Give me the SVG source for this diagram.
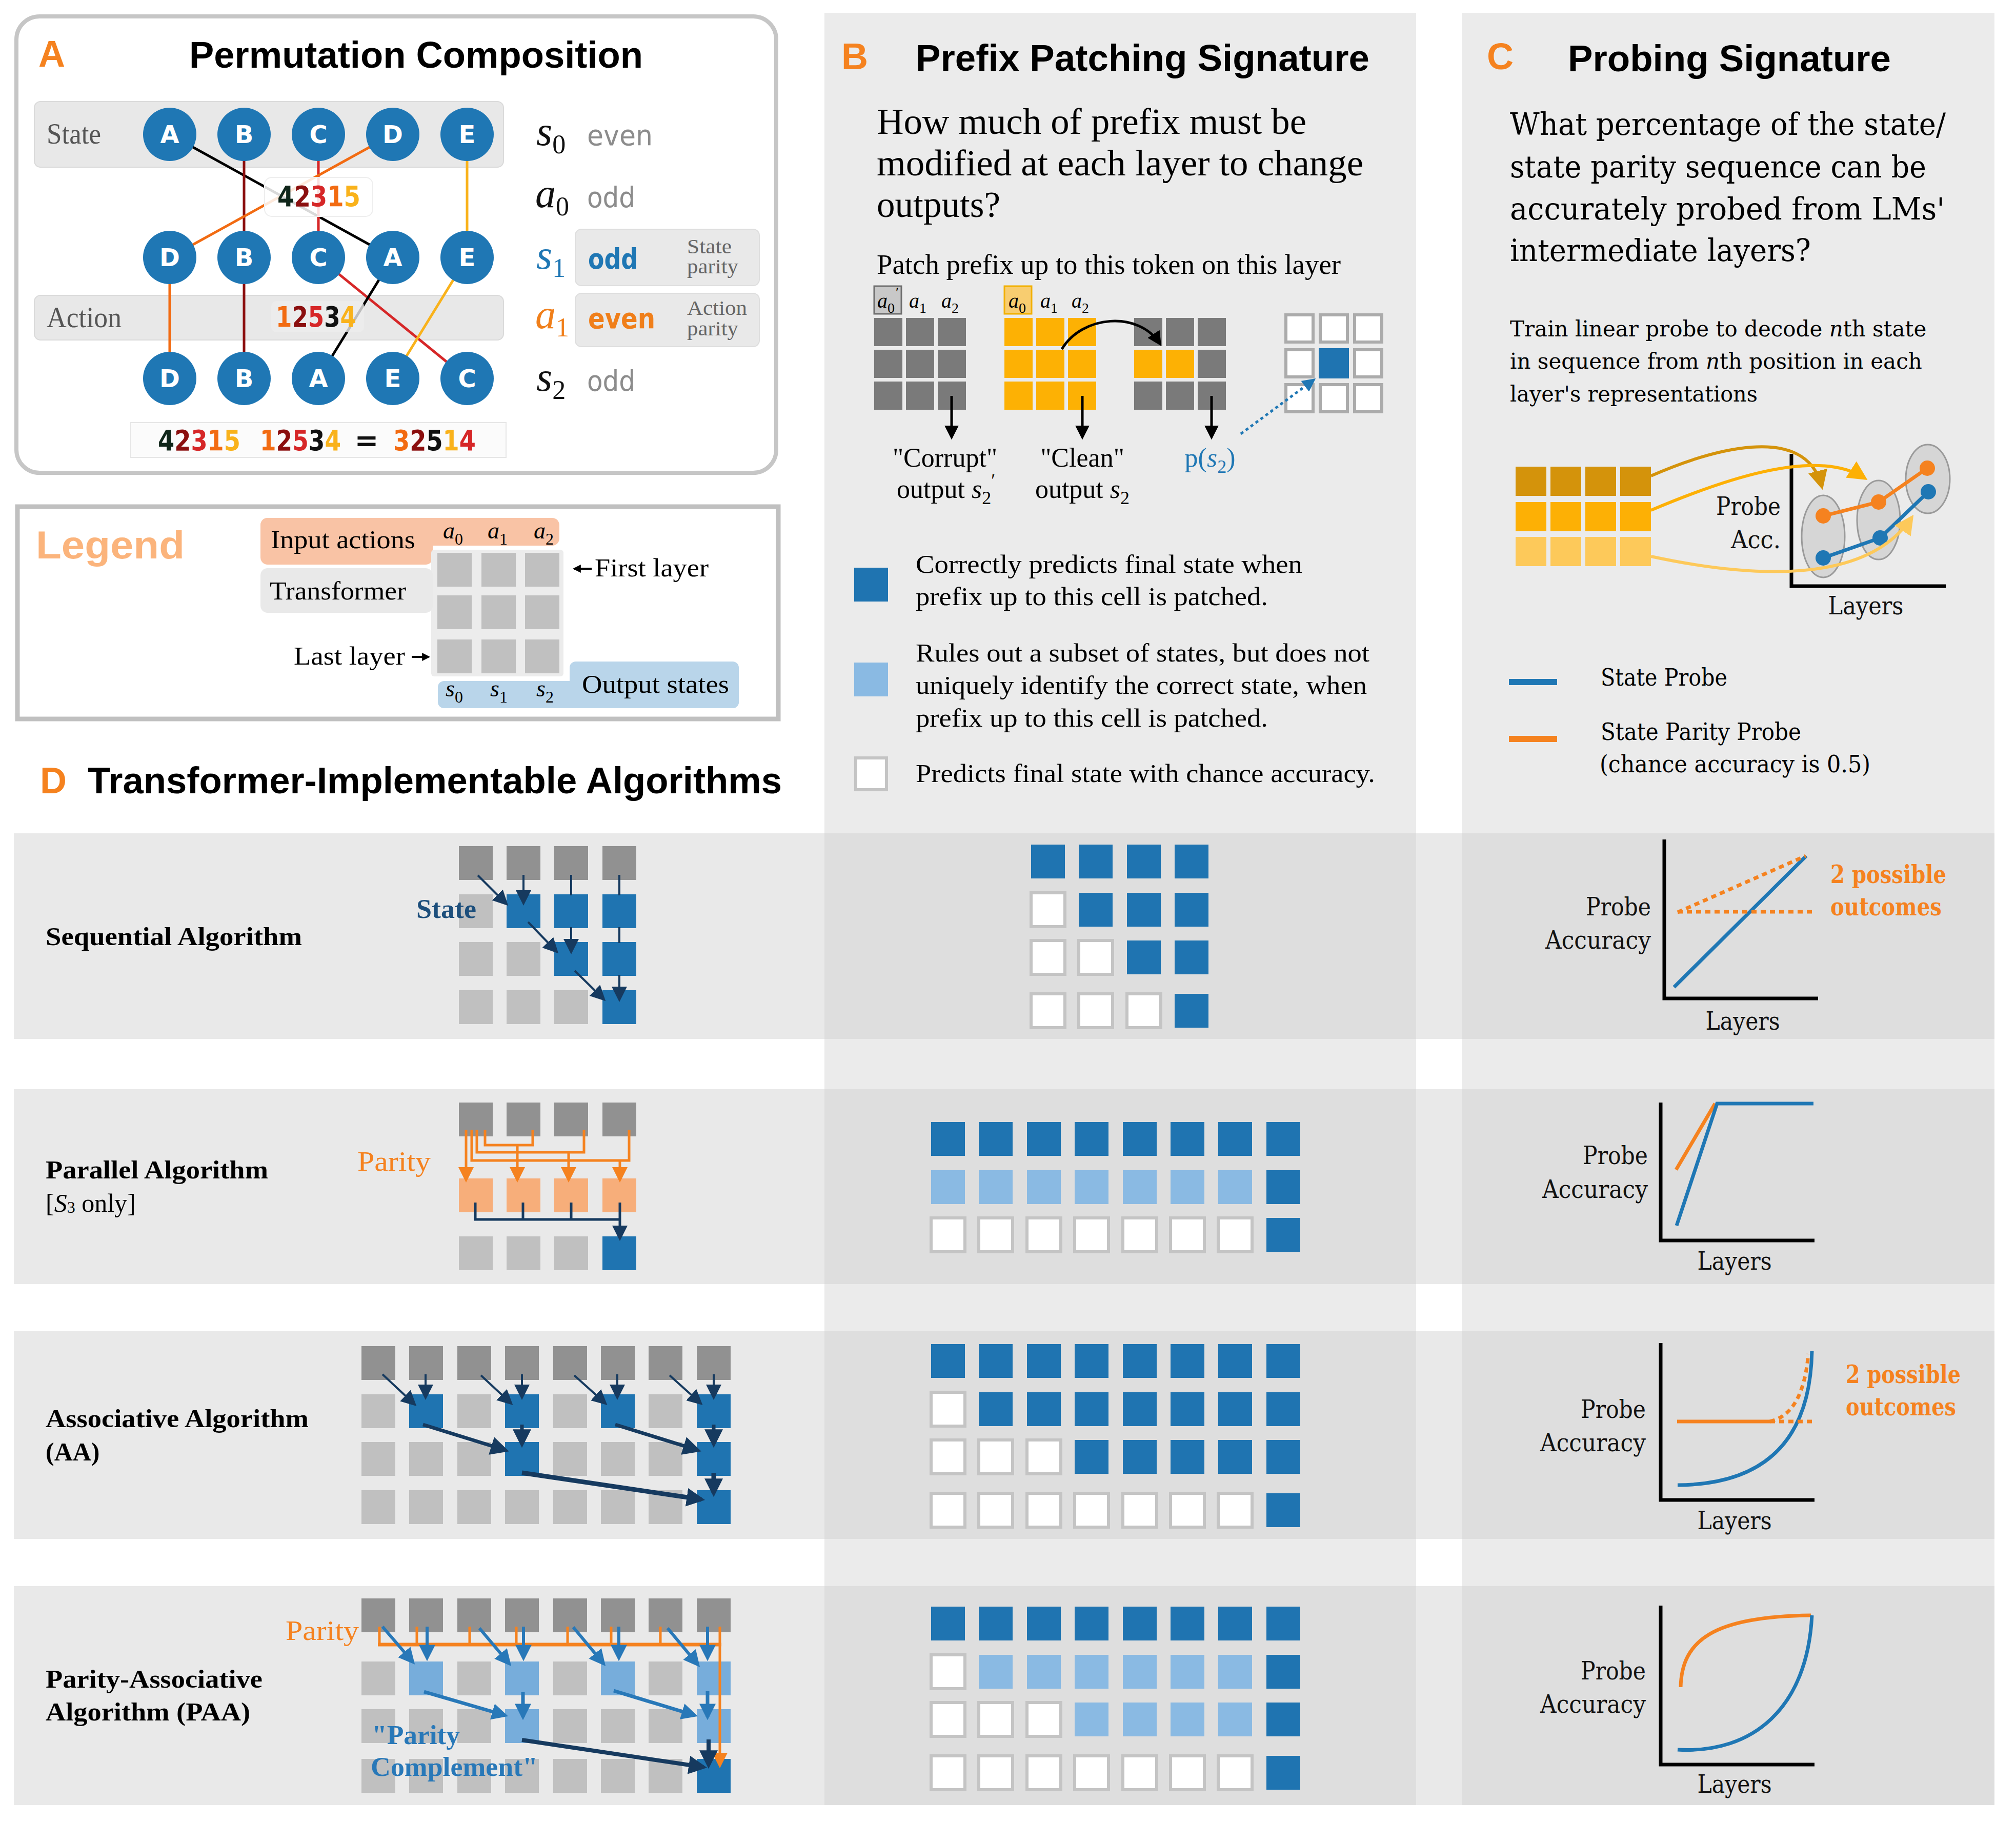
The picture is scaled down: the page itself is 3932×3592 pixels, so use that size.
<svg xmlns="http://www.w3.org/2000/svg" width="3932" height="3592" viewBox="0 0 3932 3592">
<defs>
<style>
.se{font-family:"Liberation Serif","Times New Roman",serif}
.sa{font-family:"Liberation Sans",Arial,sans-serif}
.dv{font-family:"DejaVu Sans",sans-serif}
.cs{font-family:"DejaVu Serif",serif}
.it{font-style:italic}
.bd{font-weight:bold}
.dg{fill:#919191}
.lg{fill:#c0c0c0}
.bl{fill:#1f74b1}
.lb{fill:#8abae3}
.mb{fill:#77addb}
.sm{fill:#f7ae7a}
.wh{fill:#fff;stroke:#c4c4c4;stroke-width:6}
.pg{fill:#7a7a7a}
.py{fill:#fdb104}
.ol{fill:#fff;stroke:#ababab;stroke-width:6}
.circ{fill:#1f77b4}
.cl{font-family:"DejaVu Sans",sans-serif;font-weight:bold;font-size:48px;fill:#fff;text-anchor:middle}
.nv{fill:none;stroke:#163a5f}
.bu{fill:none;stroke:#2878b8}
.or{fill:none;stroke:#f5821f;stroke-width:5}
.ax{fill:none;stroke:#000;stroke-width:7}
.plab{font-family:"DejaVu Serif",serif;font-size:48px;fill:#111}
.rowlab{font-family:"Liberation Serif","Times New Roman",serif;font-weight:bold;font-size:50px;fill:#000}
.letter{font-family:"Liberation Sans",Arial,sans-serif;font-weight:900;font-size:72px;fill:#f5821f}
.title{font-family:"Liberation Sans",Arial,sans-serif;font-weight:bold;font-size:72px;fill:#000}
</style>
<marker id="mk" viewBox="0 0 10 10" refX="8" refY="5" markerUnits="userSpaceOnUse" markerWidth="28" markerHeight="28" orient="auto"><path d="M0,0 L10,5 L0,10 z" fill="#000"/></marker>
<marker id="mks" viewBox="0 0 10 10" refX="8" refY="5" markerUnits="userSpaceOnUse" markerWidth="16" markerHeight="16" orient="auto"><path d="M0,0 L10,5 L0,10 z" fill="#000"/></marker>
<marker id="mnv" viewBox="0 0 10 10" refX="8" refY="5" markerUnits="userSpaceOnUse" markerWidth="30" markerHeight="30" orient="auto"><path d="M0,0 L10,5 L0,10 z" fill="#163a5f"/></marker>
<marker id="mnv2" viewBox="0 0 10 10" refX="8" refY="5" markerUnits="userSpaceOnUse" markerWidth="36" markerHeight="36" orient="auto"><path d="M0,0 L10,5 L0,10 z" fill="#163a5f"/></marker>
<marker id="mbu" viewBox="0 0 10 10" refX="8" refY="5" markerUnits="userSpaceOnUse" markerWidth="32" markerHeight="32" orient="auto"><path d="M0,0 L10,5 L0,10 z" fill="#2878b8"/></marker>
<marker id="mbd" viewBox="0 0 10 10" refX="8" refY="5" markerUnits="userSpaceOnUse" markerWidth="26" markerHeight="26" orient="auto"><path d="M0,0 L10,5 L0,10 z" fill="#1f77b4"/></marker>
<marker id="mor" viewBox="0 0 10 10" refX="8" refY="5" markerUnits="userSpaceOnUse" markerWidth="30" markerHeight="30" orient="auto"><path d="M0,0 L10,5 L0,10 z" fill="#f5821f"/></marker>
<marker id="mgd" viewBox="0 0 10 10" refX="8" refY="5" markerUnits="userSpaceOnUse" markerWidth="38" markerHeight="38" orient="auto"><path d="M0,0 L10,5 L0,10 z" fill="#d4930b"/></marker>
<marker id="mye" viewBox="0 0 10 10" refX="8" refY="5" markerUnits="userSpaceOnUse" markerWidth="38" markerHeight="38" orient="auto"><path d="M0,0 L10,5 L0,10 z" fill="#fdb005"/></marker>
<marker id="mly" viewBox="0 0 10 10" refX="8" refY="5" markerUnits="userSpaceOnUse" markerWidth="38" markerHeight="38" orient="auto"><path d="M0,0 L10,5 L0,10 z" fill="#fdc95a"/></marker>
</defs>

<rect x="0" y="0" width="3932" height="3592" fill="#fff"/>

<!-- panel backgrounds -->
<g id="backgrounds">
<rect x="1608" y="25" width="1154" height="3495" fill="#ebebeb"/>
<rect x="2851" y="25" width="1039" height="3495" fill="#ebebeb"/>
<rect x="27" y="1625" width="3863" height="401" fill="#e9e9e9"/>
<rect x="27" y="2124" width="3863" height="380" fill="#e9e9e9"/>
<rect x="27" y="2596" width="3863" height="405" fill="#e9e9e9"/>
<rect x="27" y="3093" width="3863" height="427" fill="#e9e9e9"/>
<rect x="1608" y="1625" width="1154" height="401" fill="#dedede"/>
<rect x="2851" y="1625" width="1039" height="401" fill="#dedede"/>
<rect x="1608" y="2124" width="1154" height="380" fill="#dedede"/>
<rect x="2851" y="2124" width="1039" height="380" fill="#dedede"/>
<rect x="1608" y="2596" width="1154" height="405" fill="#dedede"/>
<rect x="2851" y="2596" width="1039" height="405" fill="#dedede"/>
<rect x="1608" y="3093" width="1154" height="427" fill="#dedede"/>
<rect x="2851" y="3093" width="1039" height="427" fill="#dedede"/>
</g>

<!-- ============ PANEL A ============ -->
<g id="panelA">
<rect x="32" y="32" width="1482" height="890" rx="45" fill="#fff" stroke="#c6c6c6" stroke-width="8"/>
<text class="letter" x="75" y="130">A</text>
<text class="title" x="369" y="132" textLength="885" lengthAdjust="spacingAndGlyphs">Permutation Composition</text>
<rect x="67" y="198" width="915" height="128" rx="12" fill="#e8e8e8" stroke="#dadada" stroke-width="2"/>
<text class="se" x="91" y="280" font-size="56" fill="#555" textLength="106" lengthAdjust="spacingAndGlyphs">State</text>
<rect x="67" y="576" width="915" height="87" rx="12" fill="#e8e8e8" stroke="#dadada" stroke-width="2"/>
<text class="se" x="91" y="638" font-size="56" fill="#555" textLength="146" lengthAdjust="spacingAndGlyphs">Action</text>
</g>

<g id="permutation-connectors" stroke-width="5" fill="none">
<line x1="331" y1="262" x2="766" y2="502" stroke="#000"/>
<line x1="476" y1="262" x2="476" y2="502" stroke="#8b0f0f"/>
<line x1="621" y1="262" x2="621" y2="502" stroke="#d62728"/>
<line x1="766" y1="262" x2="331" y2="502" stroke="#f26b12"/>
<line x1="911" y1="262" x2="911" y2="502" stroke="#f9b21b"/>
<line x1="331" y1="502" x2="331" y2="738" stroke="#f26b12"/>
<line x1="476" y1="502" x2="476" y2="738" stroke="#8b0f0f"/>
<line x1="621" y1="502" x2="911" y2="738" stroke="#d62728"/>
<line x1="766" y1="502" x2="621" y2="738" stroke="#000"/>
<line x1="911" y1="502" x2="766" y2="738" stroke="#f9b21b"/>
</g>

<g id="perm-boxes">
<rect x="516" y="346" width="211" height="76" rx="14" fill="#fff" fill-opacity="0.85" stroke="#eeeeee" stroke-width="2"/>
<text class="dv bd" x="541" y="402" font-size="56" textLength="162" lengthAdjust="spacingAndGlyphs"><tspan fill="#10261a">4</tspan><tspan fill="#8b0f0f">2</tspan><tspan fill="#d62728">3</tspan><tspan fill="#f26b12">1</tspan><tspan fill="#f9b21b">5</tspan></text>
<rect x="529" y="587" width="181" height="61" rx="10" fill="#ececec" fill-opacity="0.8"/>
<text class="dv bd" x="538" y="637" font-size="56" textLength="157" lengthAdjust="spacingAndGlyphs"><tspan fill="#f26b12">1</tspan><tspan fill="#8b0f0f">2</tspan><tspan fill="#d62728">5</tspan><tspan fill="#111">3</tspan><tspan fill="#f9b21b">4</tspan></text>
</g>

<g id="state-s0">
<circle class="circ" cx="331" cy="262" r="52"/><text class="cl" x="331" y="279">A</text>
<circle class="circ" cx="476" cy="262" r="52"/><text class="cl" x="476" y="279">B</text>
<circle class="circ" cx="621" cy="262" r="52"/><text class="cl" x="621" y="279">C</text>
<circle class="circ" cx="766" cy="262" r="52"/><text class="cl" x="766" y="279">D</text>
<circle class="circ" cx="911" cy="262" r="52"/><text class="cl" x="911" y="279">E</text>
</g>
<g id="state-s1">
<circle class="circ" cx="331" cy="502" r="52"/><text class="cl" x="331" y="519">D</text>
<circle class="circ" cx="476" cy="502" r="52"/><text class="cl" x="476" y="519">B</text>
<circle class="circ" cx="621" cy="502" r="52"/><text class="cl" x="621" y="519">C</text>
<circle class="circ" cx="766" cy="502" r="52"/><text class="cl" x="766" y="519">A</text>
<circle class="circ" cx="911" cy="502" r="52"/><text class="cl" x="911" y="519">E</text>
</g>
<g id="state-s2">
<circle class="circ" cx="331" cy="738" r="52"/><text class="cl" x="331" y="755">D</text>
<circle class="circ" cx="476" cy="738" r="52"/><text class="cl" x="476" y="755">B</text>
<circle class="circ" cx="621" cy="738" r="52"/><text class="cl" x="621" y="755">A</text>
<circle class="circ" cx="766" cy="738" r="52"/><text class="cl" x="766" y="755">E</text>
<circle class="circ" cx="911" cy="738" r="52"/><text class="cl" x="911" y="755">C</text>
</g>

<g id="equation">
<rect x="255" y="824" width="732" height="68" fill="#fbfbfb" stroke="#e6e6e6" stroke-width="2"/>
<text class="dv bd" x="308" y="878" font-size="56" textLength="161" lengthAdjust="spacingAndGlyphs"><tspan fill="#10261a">4</tspan><tspan fill="#8b0f0f">2</tspan><tspan fill="#d62728">3</tspan><tspan fill="#f26b12">1</tspan><tspan fill="#f9b21b">5</tspan></text>
<text class="dv bd" x="507" y="878" font-size="56" textLength="158" lengthAdjust="spacingAndGlyphs"><tspan fill="#f26b12">1</tspan><tspan fill="#8b0f0f">2</tspan><tspan fill="#d62728">5</tspan><tspan fill="#111">3</tspan><tspan fill="#f9b21b">4</tspan></text>
<text class="dv bd" x="715" y="878" font-size="56" fill="#111" text-anchor="middle">=</text>
<text class="dv bd" x="767" y="878" font-size="56" textLength="161" lengthAdjust="spacingAndGlyphs"><tspan fill="#f26b12">3</tspan><tspan fill="#8b0f0f">2</tspan><tspan fill="#111">5</tspan><tspan fill="#f9b21b">1</tspan><tspan fill="#d62728">4</tspan></text>
</g>

<g id="parity-column">
<rect x="1122" y="447" width="359" height="110" rx="12" fill="#e9e9e9" stroke="#dedede" stroke-width="2"/>
<rect x="1122" y="572" width="359" height="104" rx="12" fill="#e9e9e9" stroke="#dedede" stroke-width="2"/>
<text class="se it" x="1046" y="283" font-size="80" fill="#111">s<tspan font-style="normal" font-size="52" dy="16">0</tspan></text>
<text class="se it" x="1044" y="404" font-size="80" fill="#111">a<tspan font-style="normal" font-size="52" dy="16">0</tspan></text>
<text class="se it" x="1046" y="524" font-size="80" fill="#1f77b4">s<tspan font-style="normal" font-size="52" dy="16">1</tspan></text>
<text class="se it" x="1044" y="640" font-size="80" fill="#f07f1a">a<tspan font-style="normal" font-size="52" dy="16">1</tspan></text>
<text class="se it" x="1046" y="762" font-size="80" fill="#111">s<tspan font-style="normal" font-size="52" dy="16">2</tspan></text>
<text class="dv" x="1145" y="283" font-size="56" fill="#8c8c8c" textLength="128" lengthAdjust="spacingAndGlyphs">even</text>
<text class="dv" x="1145" y="404" font-size="56" fill="#8c8c8c" textLength="94" lengthAdjust="spacingAndGlyphs">odd</text>
<text class="dv bd" x="1147" y="524" font-size="56" fill="#1f77b4" textLength="97" lengthAdjust="spacingAndGlyphs">odd</text>
<text class="dv bd" x="1147" y="640" font-size="56" fill="#f07f1a" textLength="131" lengthAdjust="spacingAndGlyphs">even</text>
<text class="dv" x="1145" y="762" font-size="56" fill="#8c8c8c" textLength="94" lengthAdjust="spacingAndGlyphs">odd</text>
<text class="se" x="1340" y="494" font-size="40" fill="#666" textLength="87" lengthAdjust="spacingAndGlyphs">State</text>
<text class="se" x="1340" y="533" font-size="40" fill="#666" textLength="100" lengthAdjust="spacingAndGlyphs">parity</text>
<text class="se" x="1340" y="614" font-size="40" fill="#666" textLength="117" lengthAdjust="spacingAndGlyphs">Action</text>
<text class="se" x="1340" y="654" font-size="40" fill="#666" textLength="100" lengthAdjust="spacingAndGlyphs">parity</text>
</g>

<!-- ============ LEGEND ============ -->
<g id="legend">
<rect x="34" y="988" width="1484" height="414" fill="#fff" stroke="#c0c0c0" stroke-width="9"/>
<text class="sa bd" x="70" y="1089" font-size="76" fill="#fbb47c" textLength="290" lengthAdjust="spacingAndGlyphs">Legend</text>
<rect x="508" y="1010" width="336" height="91" rx="14" fill="#f9c3a5"/>
<rect x="508" y="1010" width="583" height="54" rx="14" fill="#f9c3a5"/>
<rect x="841" y="1072" width="258" height="247" rx="6" fill="#ececec"/>
<rect x="508" y="1108" width="336" height="87" rx="14" fill="#e9e9e9"/>
<rect x="854" y="1328" width="587" height="53" rx="12" fill="#b9d5ea"/>
<rect x="1111" y="1290" width="330" height="91" rx="12" fill="#b9d5ea"/>
<g class="lg">
<rect x="853" y="1078" width="67" height="66"/><rect x="939" y="1078" width="67" height="66"/><rect x="1024" y="1078" width="67" height="66"/>
<rect x="853" y="1161" width="67" height="66"/><rect x="939" y="1161" width="67" height="66"/><rect x="1024" y="1161" width="67" height="66"/>
<rect x="853" y="1247" width="67" height="66"/><rect x="939" y="1247" width="67" height="66"/><rect x="1024" y="1247" width="67" height="66"/>
</g>
<text class="se" x="528" y="1069" font-size="50" fill="#000" textLength="282" lengthAdjust="spacingAndGlyphs">Input actions</text>
<text class="se" x="526" y="1169" font-size="50" fill="#000" textLength="266" lengthAdjust="spacingAndGlyphs">Transformer</text>
<text class="se" x="1160" y="1124" font-size="50" fill="#000" textLength="222" lengthAdjust="spacingAndGlyphs">First layer</text>
<text class="se" x="790" y="1296" font-size="50" fill="#000" text-anchor="end" textLength="217" lengthAdjust="spacingAndGlyphs">Last layer</text>
<text class="se" x="1135" y="1351" font-size="50" fill="#000" textLength="287" lengthAdjust="spacingAndGlyphs">Output states</text>
<text class="se it" x="864" y="1050" font-size="46">a<tspan font-style="normal" font-size="32" dy="12">0</tspan></text>
<text class="se it" x="951" y="1050" font-size="46">a<tspan font-style="normal" font-size="32" dy="12">1</tspan></text>
<text class="se it" x="1041" y="1050" font-size="46">a<tspan font-style="normal" font-size="32" dy="12">2</tspan></text>
<text class="se it" x="869" y="1358" font-size="46">s<tspan font-style="normal" font-size="32" dy="12">0</tspan></text>
<text class="se it" x="956" y="1358" font-size="46">s<tspan font-style="normal" font-size="32" dy="12">1</tspan></text>
<text class="se it" x="1046" y="1358" font-size="46">s<tspan font-style="normal" font-size="32" dy="12">2</tspan></text>
<line x1="1154" y1="1109" x2="1120" y2="1109" stroke="#000" stroke-width="4" marker-end="url(#mks)"/>
<line x1="803" y1="1281" x2="836" y2="1281" stroke="#000" stroke-width="4" marker-end="url(#mks)"/>
</g>

<!-- ============ PANEL B ============ -->
<g id="panelB-header">
<text class="letter" x="1641" y="135">B</text>
<text class="title" x="1786" y="138" textLength="885" lengthAdjust="spacingAndGlyphs">Prefix Patching Signature</text>
<text class="se" x="1710" y="261" font-size="72" fill="#000" textLength="838" lengthAdjust="spacingAndGlyphs">How much of prefix must be</text>
<text class="se" x="1710" y="342" font-size="72" fill="#000" textLength="949" lengthAdjust="spacingAndGlyphs">modified at each layer to change</text>
<text class="se" x="1710" y="423" font-size="72" fill="#000" textLength="241" lengthAdjust="spacingAndGlyphs">outputs?</text>
<text class="se" x="1710" y="534" font-size="54" fill="#000" textLength="905" lengthAdjust="spacingAndGlyphs">Patch prefix up to this token on this layer</text>
</g>

<g id="patch-grid-corrupt">
<rect x="1705" y="558" width="53" height="54" fill="#c8c8c8" stroke="#6f6f6f" stroke-width="3"/>
<text class="se it" x="1711" y="600" font-size="40">a<tspan font-style="normal" font-size="28" dy="10">0</tspan><tspan font-size="30" dy="-30">′</tspan></text>
<text class="se it" x="1773" y="600" font-size="40">a<tspan font-style="normal" font-size="28" dy="10">1</tspan></text>
<text class="se it" x="1836" y="600" font-size="40">a<tspan font-style="normal" font-size="28" dy="10">2</tspan></text>
<g class="pg">
<rect x="1705" y="620" width="55" height="55"/><rect x="1767" y="620" width="55" height="55"/><rect x="1829" y="620" width="55" height="55"/>
<rect x="1705" y="682" width="55" height="55"/><rect x="1767" y="682" width="55" height="55"/><rect x="1829" y="682" width="55" height="55"/>
<rect x="1705" y="744" width="55" height="55"/><rect x="1767" y="744" width="55" height="55"/><rect x="1829" y="744" width="55" height="55"/>
</g>
</g>
<g id="patch-grid-clean">
<rect x="1959" y="558" width="53" height="54" fill="#f8cd70" stroke="#f2b000" stroke-width="3"/>
<text class="se it" x="1967" y="600" font-size="40">a<tspan font-style="normal" font-size="28" dy="10">0</tspan></text>
<text class="se it" x="2029" y="600" font-size="40">a<tspan font-style="normal" font-size="28" dy="10">1</tspan></text>
<text class="se it" x="2090" y="600" font-size="40">a<tspan font-style="normal" font-size="28" dy="10">2</tspan></text>
<g class="py">
<rect x="1959" y="620" width="55" height="55"/><rect x="2021" y="620" width="55" height="55"/><rect x="2083" y="620" width="55" height="55"/>
<rect x="1959" y="682" width="55" height="55"/><rect x="2021" y="682" width="55" height="55"/><rect x="2083" y="682" width="55" height="55"/>
<rect x="1959" y="744" width="55" height="55"/><rect x="2021" y="744" width="55" height="55"/><rect x="2083" y="744" width="55" height="55"/>
</g>
</g>
<g id="patch-grid-patched">
<rect class="pg" x="2212" y="620" width="55" height="55"/><rect class="pg" x="2274" y="620" width="55" height="55"/><rect class="pg" x="2336" y="620" width="55" height="55"/>
<rect class="py" x="2212" y="682" width="55" height="55"/><rect class="py" x="2274" y="682" width="55" height="55"/><rect class="pg" x="2336" y="682" width="55" height="55"/>
<rect class="pg" x="2212" y="744" width="55" height="55"/><rect class="pg" x="2274" y="744" width="55" height="55"/><rect class="pg" x="2336" y="744" width="55" height="55"/>
</g>
<g id="patch-grid-result">
<rect class="ol" x="2508" y="614" width="53" height="53"/><rect class="ol" x="2575" y="614" width="53" height="53"/><rect class="ol" x="2642" y="614" width="53" height="53"/>
<rect class="ol" x="2508" y="682" width="53" height="53"/><rect x="2572" y="679" width="59" height="59" fill="#1f74b1"/><rect class="ol" x="2642" y="682" width="53" height="53"/>
<rect class="ol" x="2508" y="750" width="53" height="53"/><rect class="ol" x="2575" y="750" width="53" height="53"/><rect class="ol" x="2642" y="750" width="53" height="53"/>
</g>
<g id="patch-connectors" fill="none">
<path d="M2071,681 C2110,615 2220,605 2262,670" stroke="#000" stroke-width="5" marker-end="url(#mk)"/>
<line x1="1856" y1="772" x2="1856" y2="852" stroke="#000" stroke-width="5" marker-end="url(#mk)"/>
<line x1="2111" y1="772" x2="2111" y2="852" stroke="#000" stroke-width="5" marker-end="url(#mk)"/>
<line x1="2363" y1="772" x2="2363" y2="852" stroke="#000" stroke-width="5" marker-end="url(#mk)"/>
<line x1="2420" y1="846" x2="2562" y2="741" stroke="#1f77b4" stroke-width="5" stroke-dasharray="6 6" marker-end="url(#mbd)"/>
</g>
<g id="patch-labels" class="se" font-size="52" text-anchor="middle">
<text x="1843" y="910">"Corrupt"</text>
<text x="1845" y="971">output <tspan font-style="italic">s</tspan><tspan font-size="36" dy="12">2</tspan><tspan font-size="36" dy="-34">′</tspan></text>
<text x="2111" y="910">"Clean"</text>
<text x="2111" y="971">output <tspan font-style="italic">s</tspan><tspan font-size="36" dy="12">2</tspan></text>
<text x="2360" y="910" fill="#1f77b4">p(<tspan font-style="italic">s</tspan><tspan font-size="36" dy="12">2</tspan><tspan dy="-12">)</tspan></text>
</g>

<g id="panelB-legend">
<rect x="1666" y="1107" width="66" height="66" fill="#1f74b1"/>
<rect x="1666" y="1292" width="66" height="66" fill="#8abae3"/>
<rect x="1669" y="1478" width="60" height="62" fill="#fff" stroke="#c4c4c4" stroke-width="6"/>
<g class="se" font-size="50" fill="#000">
<text x="1786" y="1117" textLength="754" lengthAdjust="spacingAndGlyphs">Correctly predicts final state when</text>
<text x="1786" y="1180" textLength="687" lengthAdjust="spacingAndGlyphs">prefix up to this cell is patched.</text>
<text x="1786" y="1290" textLength="885" lengthAdjust="spacingAndGlyphs">Rules out a subset of states, but does not</text>
<text x="1786" y="1353" textLength="880" lengthAdjust="spacingAndGlyphs">uniquely identify the correct state, when</text>
<text x="1786" y="1417" textLength="687" lengthAdjust="spacingAndGlyphs">prefix up to this cell is patched.</text>
<text x="1786" y="1525" textLength="896" lengthAdjust="spacingAndGlyphs">Predicts final state with chance accuracy.</text>
</g>
</g>

<!-- ============ PANEL C ============ -->
<g id="panelC-header">
<text class="letter" x="2900" y="135">C</text>
<text class="title" x="3058" y="139" textLength="630" lengthAdjust="spacingAndGlyphs">Probing Signature</text>
<g class="cs" font-size="60" fill="#000">
<text x="2945" y="263" textLength="850" lengthAdjust="spacingAndGlyphs">What percentage of the state/</text>
<text x="2945" y="346" textLength="812" lengthAdjust="spacingAndGlyphs">state parity sequence can be</text>
<text x="2945" y="428" textLength="848" lengthAdjust="spacingAndGlyphs">accurately probed from LMs'</text>
<text x="2945" y="509" textLength="587" lengthAdjust="spacingAndGlyphs">intermediate layers?</text>
</g>
<g class="cs" font-size="42" fill="#000">
<text x="2945" y="656">Train linear probe to decode <tspan font-style="italic">n</tspan>th state</text>
<text x="2945" y="719">in sequence from <tspan font-style="italic">n</tspan>th position in each</text>
<text x="2945" y="783" textLength="483" lengthAdjust="spacingAndGlyphs">layer's representations</text>
</g>
</g>
<g id="probe-grid">
<rect x="2956" y="910" width="60" height="57" fill="#d4930b"/><rect x="3024" y="910" width="60" height="57" fill="#d4930b"/><rect x="3092" y="910" width="60" height="57" fill="#d4930b"/><rect x="3160" y="910" width="60" height="57" fill="#d4930b"/>
<rect x="2956" y="979" width="60" height="57" fill="#fdb005"/><rect x="3024" y="979" width="60" height="57" fill="#fdb005"/><rect x="3092" y="979" width="60" height="57" fill="#fdb005"/><rect x="3160" y="979" width="60" height="57" fill="#fdb005"/>
<rect x="2956" y="1047" width="60" height="57" fill="#fdc95a"/><rect x="3024" y="1047" width="60" height="57" fill="#fdc95a"/><rect x="3092" y="1047" width="60" height="57" fill="#fdc95a"/><rect x="3160" y="1047" width="60" height="57" fill="#fdc95a"/>
</g>
<g id="probe-plot">
<polyline class="ax" points="3494,885 3494,1143 3795,1143"/>
<text class="plab" x="3473" y="1004" text-anchor="end" textLength="126" lengthAdjust="spacingAndGlyphs">Probe</text>
<text class="plab" x="3473" y="1069" text-anchor="end" textLength="97" lengthAdjust="spacingAndGlyphs">Acc.</text>
<text class="plab" x="3639" y="1198" text-anchor="middle" textLength="147" lengthAdjust="spacingAndGlyphs">Layers</text>
<ellipse cx="3556" cy="1046" rx="42" ry="80" fill="#d6d6d6" stroke="#9a9a9a" stroke-width="3"/>
<ellipse cx="3664" cy="1014" rx="42" ry="77" fill="#d6d6d6" stroke="#9a9a9a" stroke-width="3"/>
<ellipse cx="3760" cy="934" rx="43" ry="67" fill="#d6d6d6" stroke="#9a9a9a" stroke-width="3"/>
<polyline points="3556,1006 3664,979 3759,913" fill="none" stroke="#f5821f" stroke-width="7"/>
<polyline points="3556,1088 3667,1049 3761,959" fill="none" stroke="#1f77b4" stroke-width="7"/>
<circle cx="3556" cy="1006" r="15" fill="#f5821f"/><circle cx="3664" cy="979" r="15" fill="#f5821f"/><circle cx="3759" cy="913" r="15" fill="#f5821f"/>
<circle cx="3556" cy="1088" r="15" fill="#1f77b4"/><circle cx="3667" cy="1049" r="15" fill="#1f77b4"/><circle cx="3761" cy="959" r="15" fill="#1f77b4"/>
</g>
<g id="probe-connectors" fill="none" stroke-width="6">
<path d="M3220,928 C3330,880 3520,820 3553,948" stroke="#d4930b" marker-end="url(#mgd)"/>
<path d="M3220,995 C3350,940 3540,870 3636,932" stroke="#fdb005" marker-end="url(#mye)"/>
<path d="M3220,1085 C3420,1128 3640,1140 3728,1010" stroke="#fdc95a" marker-end="url(#mly)"/>
</g>
<g id="panelC-legend">
<line x1="2943" y1="1330" x2="3037" y2="1330" stroke="#1f77b4" stroke-width="12"/>
<line x1="2943" y1="1441" x2="3037" y2="1441" stroke="#f5821f" stroke-width="12"/>
<g class="cs" font-size="46" fill="#000">
<text x="3122" y="1337" textLength="247" lengthAdjust="spacingAndGlyphs">State Probe</text>
<text x="3122" y="1443" textLength="391" lengthAdjust="spacingAndGlyphs">State Parity Probe</text>
<text x="3120" y="1506" textLength="528" lengthAdjust="spacingAndGlyphs">(chance accuracy is 0.5)</text>
</g>
</g>

<!-- ============ PANEL D ============ -->
<g id="panelD-header">
<text class="letter" x="78" y="1547">D</text>
<text class="title" x="171" y="1547" textLength="1354" lengthAdjust="spacingAndGlyphs">Transformer-Implementable Algorithms</text>
</g>

<!-- Sequential -->
<g id="row-sequential">
<text class="rowlab" x="89" y="1843" textLength="500" lengthAdjust="spacingAndGlyphs">Sequential Algorithm</text>
<rect class="dg" x="895" y="1650" width="66" height="66"/><rect class="dg" x="988" y="1650" width="66" height="66"/><rect class="dg" x="1081" y="1650" width="66" height="66"/><rect class="dg" x="1175" y="1650" width="66" height="66"/>
<rect class="lg" x="895" y="1744" width="66" height="66"/><rect class="bl" x="988" y="1744" width="66" height="66"/><rect class="bl" x="1081" y="1744" width="66" height="66"/><rect class="bl" x="1175" y="1744" width="66" height="66"/>
<rect class="lg" x="895" y="1837" width="66" height="66"/><rect class="lg" x="988" y="1837" width="66" height="66"/><rect class="bl" x="1081" y="1837" width="66" height="66"/><rect class="bl" x="1175" y="1837" width="66" height="66"/>
<rect class="lg" x="895" y="1931" width="66" height="66"/><rect class="lg" x="988" y="1931" width="66" height="66"/><rect class="lg" x="1081" y="1931" width="66" height="66"/><rect class="bl" x="1175" y="1931" width="66" height="66"/>
<text class="se bd" x="812" y="1790" font-size="52" fill="#1d4f7c" textLength="117" lengthAdjust="spacingAndGlyphs">State</text>
</g>
<g id="seq-connectors" class="nv" stroke-width="4">
<line x1="1114" y1="1706" x2="1114" y2="1746"/>
<line x1="1208" y1="1706" x2="1208" y2="1746"/>
<line x1="1208" y1="1808" x2="1208" y2="1839"/>
<line x1="932" y1="1707" x2="987" y2="1762" marker-end="url(#mnv)"/>
<line x1="1021" y1="1706" x2="1021" y2="1760" marker-end="url(#mnv)"/>
<line x1="1030" y1="1798" x2="1085" y2="1855" marker-end="url(#mnv)"/>
<line x1="1114" y1="1808" x2="1114" y2="1855" marker-end="url(#mnv)"/>
<line x1="1121" y1="1893" x2="1177" y2="1948" marker-end="url(#mnv)"/>
<line x1="1208" y1="1901" x2="1208" y2="1948" marker-end="url(#mnv)"/>
</g>
<g id="seq-patching">
<rect class="bl" x="2011" y="1647" width="66" height="66"/><rect class="bl" x="2104" y="1647" width="66" height="66"/><rect class="bl" x="2198" y="1647" width="66" height="66"/><rect class="bl" x="2291" y="1647" width="66" height="66"/>
<rect class="wh" x="2011" y="1741" width="66" height="66"/><rect class="bl" x="2104" y="1741" width="66" height="66"/><rect class="bl" x="2198" y="1741" width="66" height="66"/><rect class="bl" x="2291" y="1741" width="66" height="66"/>
<rect class="wh" x="2011" y="1834" width="66" height="66"/><rect class="wh" x="2104" y="1834" width="66" height="66"/><rect class="bl" x="2198" y="1834" width="66" height="66"/><rect class="bl" x="2291" y="1834" width="66" height="66"/>
<rect class="wh" x="2011" y="1938" width="66" height="66"/><rect class="wh" x="2104" y="1938" width="66" height="66"/><rect class="wh" x="2198" y="1938" width="66" height="66"/><rect class="bl" x="2291" y="1938" width="66" height="66"/>
</g>
<g id="seq-probe">
<polyline class="ax" points="3246,1637 3246,1947 3546,1947"/>
<line x1="3265" y1="1925" x2="3523" y2="1669" stroke="#1f77b4" stroke-width="7"/>
<line x1="3272" y1="1779" x2="3522" y2="1669" stroke="#f5821f" stroke-width="7" stroke-dasharray="10 8"/>
<line x1="3272" y1="1778" x2="3536" y2="1778" stroke="#f5821f" stroke-width="7" stroke-dasharray="10 8"/>
<text class="plab" x="3220" y="1785" text-anchor="end" textLength="127" lengthAdjust="spacingAndGlyphs">Probe</text>
<text class="plab" x="3220" y="1850" text-anchor="end" textLength="206" lengthAdjust="spacingAndGlyphs">Accuracy</text>
<text class="plab" x="3399" y="2008" text-anchor="middle" textLength="145" lengthAdjust="spacingAndGlyphs">Layers</text>
<text class="cs bd" x="3570" y="1722" font-size="48" fill="#f5821f" textLength="226" lengthAdjust="spacingAndGlyphs">2 possible</text>
<text class="cs bd" x="3570" y="1785" font-size="48" fill="#f5821f" textLength="217" lengthAdjust="spacingAndGlyphs">outcomes</text>
</g>

<!-- Parallel -->
<g id="row-parallel">
<text class="rowlab" x="89" y="2298" textLength="434" lengthAdjust="spacingAndGlyphs">Parallel Algorithm</text>
<text class="se" x="89" y="2363" font-size="50" fill="#000">[<tspan font-style="italic">S</tspan><tspan font-size="32" dy="2">3</tspan><tspan dy="-2"> only]</tspan></text>
<rect class="dg" x="895" y="2150" width="66" height="66"/><rect class="dg" x="988" y="2150" width="66" height="66"/><rect class="dg" x="1081" y="2150" width="66" height="66"/><rect class="dg" x="1175" y="2150" width="66" height="66"/>
<rect class="sm" x="895" y="2298" width="66" height="66"/><rect class="sm" x="988" y="2298" width="66" height="66"/><rect class="sm" x="1081" y="2298" width="66" height="66"/><rect class="sm" x="1175" y="2298" width="66" height="66"/>
<rect class="lg" x="895" y="2411" width="66" height="66"/><rect class="lg" x="988" y="2411" width="66" height="66"/><rect class="lg" x="1081" y="2411" width="66" height="66"/><rect class="bl" x="1175" y="2411" width="66" height="66"/>
<text class="se" x="697" y="2283" font-size="54" fill="#f5821f" textLength="143" lengthAdjust="spacingAndGlyphs">Parity</text>
</g>
<g id="par-connectors">
<g class="or">
<polyline points="946,2203 946,2233 1039,2233 1039,2203"/>
<polyline points="930,2203 930,2247 1139,2247 1139,2203"/>
<polyline points="920,2203 920,2263 1227,2263 1227,2203"/>
<line x1="909" y1="2203" x2="909" y2="2300" marker-end="url(#mor)"/>
<line x1="1009" y1="2233" x2="1009" y2="2300" marker-end="url(#mor)"/>
<line x1="1109" y1="2247" x2="1109" y2="2300" marker-end="url(#mor)"/>
<line x1="1209" y1="2263" x2="1209" y2="2300" marker-end="url(#mor)"/>
</g>
<polyline class="nv" stroke-width="5" points="927,2345 927,2378 1209,2378"/>
<line class="nv" stroke-width="5" x1="1020" y1="2345" x2="1020" y2="2378"/>
<line class="nv" stroke-width="5" x1="1114" y1="2345" x2="1114" y2="2378"/>
<line class="nv" stroke-width="5" x1="1209" y1="2345" x2="1209" y2="2414" marker-end="url(#mnv)"/>
</g>
<g id="par-patching">
<rect class="bl" x="1816" y="2188" width="66" height="66"/><rect class="bl" x="1909" y="2188" width="66" height="66"/><rect class="bl" x="2003" y="2188" width="66" height="66"/><rect class="bl" x="2096" y="2188" width="66" height="66"/><rect class="bl" x="2190" y="2188" width="66" height="66"/><rect class="bl" x="2283" y="2188" width="66" height="66"/><rect class="bl" x="2376" y="2188" width="66" height="66"/><rect class="bl" x="2470" y="2188" width="66" height="66"/>
<rect class="lb" x="1816" y="2282" width="66" height="66"/><rect class="lb" x="1909" y="2282" width="66" height="66"/><rect class="lb" x="2003" y="2282" width="66" height="66"/><rect class="lb" x="2096" y="2282" width="66" height="66"/><rect class="lb" x="2190" y="2282" width="66" height="66"/><rect class="lb" x="2283" y="2282" width="66" height="66"/><rect class="lb" x="2376" y="2282" width="66" height="66"/><rect class="bl" x="2470" y="2282" width="66" height="66"/>
<rect class="wh" x="1816" y="2375" width="66" height="66"/><rect class="wh" x="1909" y="2375" width="66" height="66"/><rect class="wh" x="2003" y="2375" width="66" height="66"/><rect class="wh" x="2096" y="2375" width="66" height="66"/><rect class="wh" x="2190" y="2375" width="66" height="66"/><rect class="wh" x="2283" y="2375" width="66" height="66"/><rect class="wh" x="2376" y="2375" width="66" height="66"/><rect class="bl" x="2470" y="2375" width="66" height="66"/>
</g>
<g id="par-probe">
<polyline class="ax" points="3239,2150 3239,2419 3539,2419"/>
<line x1="3269" y1="2281" x2="3345" y2="2152" stroke="#f5821f" stroke-width="7"/>
<polyline points="3270,2390 3349,2152 3537,2152" fill="none" stroke="#1f77b4" stroke-width="7"/>
<text class="plab" x="3214" y="2270" text-anchor="end" textLength="127" lengthAdjust="spacingAndGlyphs">Probe</text>
<text class="plab" x="3214" y="2336" text-anchor="end" textLength="206" lengthAdjust="spacingAndGlyphs">Accuracy</text>
<text class="plab" x="3383" y="2476" text-anchor="middle" textLength="145" lengthAdjust="spacingAndGlyphs">Layers</text>
</g>

<!-- Associative -->
<g id="row-associative">
<text class="rowlab" x="89" y="2783" textLength="513" lengthAdjust="spacingAndGlyphs">Associative Algorithm</text>
<text class="rowlab" x="89" y="2848">(AA)</text>
<rect class="dg" x="705" y="2625" width="66" height="66"/><rect class="dg" x="798" y="2625" width="66" height="66"/><rect class="dg" x="892" y="2625" width="66" height="66"/><rect class="dg" x="985" y="2625" width="66" height="66"/><rect class="dg" x="1079" y="2625" width="66" height="66"/><rect class="dg" x="1172" y="2625" width="66" height="66"/><rect class="dg" x="1265" y="2625" width="66" height="66"/><rect class="dg" x="1359" y="2625" width="66" height="66"/>
<rect class="lg" x="705" y="2719" width="66" height="66"/><rect class="bl" x="798" y="2719" width="66" height="66"/><rect class="lg" x="892" y="2719" width="66" height="66"/><rect class="bl" x="985" y="2719" width="66" height="66"/><rect class="lg" x="1079" y="2719" width="66" height="66"/><rect class="bl" x="1172" y="2719" width="66" height="66"/><rect class="lg" x="1265" y="2719" width="66" height="66"/><rect class="bl" x="1359" y="2719" width="66" height="66"/>
<rect class="lg" x="705" y="2812" width="66" height="66"/><rect class="lg" x="798" y="2812" width="66" height="66"/><rect class="lg" x="892" y="2812" width="66" height="66"/><rect class="bl" x="985" y="2812" width="66" height="66"/><rect class="lg" x="1079" y="2812" width="66" height="66"/><rect class="lg" x="1172" y="2812" width="66" height="66"/><rect class="lg" x="1265" y="2812" width="66" height="66"/><rect class="bl" x="1359" y="2812" width="66" height="66"/>
<rect class="lg" x="705" y="2906" width="66" height="66"/><rect class="lg" x="798" y="2906" width="66" height="66"/><rect class="lg" x="892" y="2906" width="66" height="66"/><rect class="lg" x="985" y="2906" width="66" height="66"/><rect class="lg" x="1079" y="2906" width="66" height="66"/><rect class="lg" x="1172" y="2906" width="66" height="66"/><rect class="lg" x="1265" y="2906" width="66" height="66"/><rect class="bl" x="1359" y="2906" width="66" height="66"/>
</g>
<g id="aa-connectors" class="nv">
<g stroke-width="4">
<line x1="746" y1="2680" x2="808" y2="2738" marker-end="url(#mnv)"/>
<line x1="830" y1="2680" x2="830" y2="2724" marker-end="url(#mnv)"/>
<line x1="938" y1="2682" x2="996" y2="2736" marker-end="url(#mnv)"/>
<line x1="1018" y1="2680" x2="1018" y2="2724" marker-end="url(#mnv)"/>
<line x1="1120" y1="2682" x2="1180" y2="2736" marker-end="url(#mnv)"/>
<line x1="1204" y1="2680" x2="1204" y2="2724" marker-end="url(#mnv)"/>
<line x1="1306" y1="2682" x2="1366" y2="2736" marker-end="url(#mnv)"/>
<line x1="1392" y1="2680" x2="1392" y2="2724" marker-end="url(#mnv)"/>
</g>
<g stroke-width="7">
<line x1="825" y1="2778" x2="986" y2="2828" marker-end="url(#mnv2)"/>
<line x1="1018" y1="2778" x2="1018" y2="2816" marker-end="url(#mnv2)"/>
<line x1="1200" y1="2778" x2="1361" y2="2828" marker-end="url(#mnv2)"/>
<line x1="1392" y1="2778" x2="1392" y2="2816" marker-end="url(#mnv2)"/>
</g>
<g stroke-width="9">
<line x1="1018" y1="2872" x2="1368" y2="2924" marker-end="url(#mnv2)"/>
<line x1="1392" y1="2872" x2="1392" y2="2912" marker-end="url(#mnv2)"/>
</g>
</g>
<g id="aa-patching">
<rect class="bl" x="1816" y="2621" width="66" height="66"/><rect class="bl" x="1909" y="2621" width="66" height="66"/><rect class="bl" x="2003" y="2621" width="66" height="66"/><rect class="bl" x="2096" y="2621" width="66" height="66"/><rect class="bl" x="2190" y="2621" width="66" height="66"/><rect class="bl" x="2283" y="2621" width="66" height="66"/><rect class="bl" x="2376" y="2621" width="66" height="66"/><rect class="bl" x="2470" y="2621" width="66" height="66"/>
<rect class="wh" x="1816" y="2715" width="66" height="66"/><rect class="bl" x="1909" y="2715" width="66" height="66"/><rect class="bl" x="2003" y="2715" width="66" height="66"/><rect class="bl" x="2096" y="2715" width="66" height="66"/><rect class="bl" x="2190" y="2715" width="66" height="66"/><rect class="bl" x="2283" y="2715" width="66" height="66"/><rect class="bl" x="2376" y="2715" width="66" height="66"/><rect class="bl" x="2470" y="2715" width="66" height="66"/>
<rect class="wh" x="1816" y="2808" width="66" height="66"/><rect class="wh" x="1909" y="2808" width="66" height="66"/><rect class="wh" x="2003" y="2808" width="66" height="66"/><rect class="bl" x="2096" y="2808" width="66" height="66"/><rect class="bl" x="2190" y="2808" width="66" height="66"/><rect class="bl" x="2283" y="2808" width="66" height="66"/><rect class="bl" x="2376" y="2808" width="66" height="66"/><rect class="bl" x="2470" y="2808" width="66" height="66"/>
<rect class="wh" x="1816" y="2912" width="66" height="66"/><rect class="wh" x="1909" y="2912" width="66" height="66"/><rect class="wh" x="2003" y="2912" width="66" height="66"/><rect class="wh" x="2096" y="2912" width="66" height="66"/><rect class="wh" x="2190" y="2912" width="66" height="66"/><rect class="wh" x="2283" y="2912" width="66" height="66"/><rect class="wh" x="2376" y="2912" width="66" height="66"/><rect class="bl" x="2470" y="2912" width="66" height="66"/>
</g>
<g id="aa-probe">
<polyline class="ax" points="3239,2619 3239,2925 3539,2925"/>
<path d="M3272,2896 C3420,2895 3530,2830 3534,2635" fill="none" stroke="#1f77b4" stroke-width="7"/>
<line x1="3271" y1="2772" x2="3452" y2="2772" stroke="#f5821f" stroke-width="7"/>
<line x1="3452" y1="2772" x2="3537" y2="2772" stroke="#f5821f" stroke-width="7" stroke-dasharray="10 8"/>
<path d="M3452,2772 C3495,2762 3520,2720 3527,2640" fill="none" stroke="#f5821f" stroke-width="7" stroke-dasharray="10 8"/>
<text class="plab" x="3210" y="2765" text-anchor="end" textLength="127" lengthAdjust="spacingAndGlyphs">Probe</text>
<text class="plab" x="3210" y="2830" text-anchor="end" textLength="206" lengthAdjust="spacingAndGlyphs">Accuracy</text>
<text class="plab" x="3383" y="2982" text-anchor="middle" textLength="145" lengthAdjust="spacingAndGlyphs">Layers</text>
<text class="cs bd" x="3600" y="2697" font-size="48" fill="#f5821f" textLength="224" lengthAdjust="spacingAndGlyphs">2 possible</text>
<text class="cs bd" x="3600" y="2760" font-size="48" fill="#f5821f" textLength="215" lengthAdjust="spacingAndGlyphs">outcomes</text>
</g>

<!-- Parity-Associative -->
<g id="row-parity-associative">
<text class="rowlab" x="89" y="3291" textLength="423" lengthAdjust="spacingAndGlyphs">Parity-Associative</text>
<text class="rowlab" x="89" y="3355" textLength="399" lengthAdjust="spacingAndGlyphs">Algorithm (PAA)</text>
<rect class="dg" x="705" y="3117" width="66" height="66"/><rect class="dg" x="798" y="3117" width="66" height="66"/><rect class="dg" x="892" y="3117" width="66" height="66"/><rect class="dg" x="985" y="3117" width="66" height="66"/><rect class="dg" x="1079" y="3117" width="66" height="66"/><rect class="dg" x="1172" y="3117" width="66" height="66"/><rect class="dg" x="1265" y="3117" width="66" height="66"/><rect class="dg" x="1359" y="3117" width="66" height="66"/>
<rect class="lg" x="705" y="3240" width="66" height="66"/><rect class="mb" x="798" y="3240" width="66" height="66"/><rect class="lg" x="892" y="3240" width="66" height="66"/><rect class="mb" x="985" y="3240" width="66" height="66"/><rect class="lg" x="1079" y="3240" width="66" height="66"/><rect class="mb" x="1172" y="3240" width="66" height="66"/><rect class="lg" x="1265" y="3240" width="66" height="66"/><rect class="mb" x="1359" y="3240" width="66" height="66"/>
<rect class="lg" x="705" y="3333" width="66" height="66"/><rect class="lg" x="798" y="3333" width="66" height="66"/><rect class="lg" x="892" y="3333" width="66" height="66"/><rect class="mb" x="985" y="3333" width="66" height="66"/><rect class="lg" x="1079" y="3333" width="66" height="66"/><rect class="lg" x="1172" y="3333" width="66" height="66"/><rect class="lg" x="1265" y="3333" width="66" height="66"/><rect class="mb" x="1359" y="3333" width="66" height="66"/>
<rect class="lg" x="705" y="3430" width="66" height="66"/><rect class="lg" x="798" y="3430" width="66" height="66"/><rect class="lg" x="892" y="3430" width="66" height="66"/><rect class="lg" x="985" y="3430" width="66" height="66"/><rect class="lg" x="1079" y="3430" width="66" height="66"/><rect class="lg" x="1172" y="3430" width="66" height="66"/><rect class="lg" x="1265" y="3430" width="66" height="66"/><rect class="bl" x="1359" y="3430" width="66" height="66"/>
<text class="se" x="557" y="3198" font-size="54" fill="#f5821f" textLength="143" lengthAdjust="spacingAndGlyphs">Parity</text>
<text class="se bd" x="725" y="3401" font-size="52" fill="#2878b8" textLength="172" lengthAdjust="spacingAndGlyphs">"Parity</text>
<text class="se bd" x="723" y="3463" font-size="52" fill="#2878b8" textLength="326" lengthAdjust="spacingAndGlyphs">Complement"</text>
</g>
<g id="paa-connectors">
<g class="or" stroke-width="5">
<line x1="740" y1="3172" x2="740" y2="3207"/>
<line x1="813" y1="3172" x2="813" y2="3207"/>
<line x1="916" y1="3172" x2="916" y2="3207"/>
<line x1="1007" y1="3172" x2="1007" y2="3207"/>
<line x1="1107" y1="3172" x2="1107" y2="3207"/>
<line x1="1192" y1="3172" x2="1192" y2="3207"/>
<line x1="1288" y1="3172" x2="1288" y2="3207"/>
<line x1="737" y1="3207" x2="1407" y2="3207" stroke-width="7"/>
<line x1="1404" y1="3172" x2="1404" y2="3442" marker-end="url(#mor)"/>
</g>
<g class="bu" stroke-width="6">
<line x1="746" y1="3172" x2="805" y2="3241" marker-end="url(#mbu)"/>
<line x1="833" y1="3172" x2="833" y2="3233" marker-end="url(#mbu)"/>
<line x1="935" y1="3175" x2="993" y2="3244" marker-end="url(#mbu)"/>
<line x1="1021" y1="3172" x2="1021" y2="3233" marker-end="url(#mbu)"/>
<line x1="1118" y1="3173" x2="1177" y2="3244" marker-end="url(#mbu)"/>
<line x1="1207" y1="3172" x2="1207" y2="3233" marker-end="url(#mbu)"/>
<line x1="1302" y1="3175" x2="1361" y2="3246" marker-end="url(#mbu)"/>
<line x1="1380" y1="3172" x2="1380" y2="3233" marker-end="url(#mbu)"/>
</g>
<g class="bu" stroke-width="7">
<line x1="827" y1="3299" x2="985" y2="3345" marker-end="url(#mbu)"/>
<line x1="1020" y1="3299" x2="1020" y2="3348" marker-end="url(#mbu)"/>
<line x1="1197" y1="3297" x2="1355" y2="3345" marker-end="url(#mbu)"/>
<line x1="1380" y1="3298" x2="1380" y2="3348" marker-end="url(#mbu)"/>
</g>
<g class="nv" stroke-width="8">
<line x1="1018" y1="3393" x2="1372" y2="3446" marker-end="url(#mnv2)"/>
<line x1="1382" y1="3392" x2="1382" y2="3442" marker-end="url(#mnv2)"/>
</g>
</g>
<g id="paa-patching">
<rect class="bl" x="1816" y="3133" width="66" height="66"/><rect class="bl" x="1909" y="3133" width="66" height="66"/><rect class="bl" x="2003" y="3133" width="66" height="66"/><rect class="bl" x="2096" y="3133" width="66" height="66"/><rect class="bl" x="2190" y="3133" width="66" height="66"/><rect class="bl" x="2283" y="3133" width="66" height="66"/><rect class="bl" x="2376" y="3133" width="66" height="66"/><rect class="bl" x="2470" y="3133" width="66" height="66"/>
<rect class="wh" x="1816" y="3227" width="66" height="66"/><rect class="lb" x="1909" y="3227" width="66" height="66"/><rect class="lb" x="2003" y="3227" width="66" height="66"/><rect class="lb" x="2096" y="3227" width="66" height="66"/><rect class="lb" x="2190" y="3227" width="66" height="66"/><rect class="lb" x="2283" y="3227" width="66" height="66"/><rect class="lb" x="2376" y="3227" width="66" height="66"/><rect class="bl" x="2470" y="3227" width="66" height="66"/>
<rect class="wh" x="1816" y="3320" width="66" height="66"/><rect class="wh" x="1909" y="3320" width="66" height="66"/><rect class="wh" x="2003" y="3320" width="66" height="66"/><rect class="lb" x="2096" y="3320" width="66" height="66"/><rect class="lb" x="2190" y="3320" width="66" height="66"/><rect class="lb" x="2283" y="3320" width="66" height="66"/><rect class="lb" x="2376" y="3320" width="66" height="66"/><rect class="bl" x="2470" y="3320" width="66" height="66"/>
<rect class="wh" x="1816" y="3424" width="66" height="66"/><rect class="wh" x="1909" y="3424" width="66" height="66"/><rect class="wh" x="2003" y="3424" width="66" height="66"/><rect class="wh" x="2096" y="3424" width="66" height="66"/><rect class="wh" x="2190" y="3424" width="66" height="66"/><rect class="wh" x="2283" y="3424" width="66" height="66"/><rect class="wh" x="2376" y="3424" width="66" height="66"/><rect class="bl" x="2470" y="3424" width="66" height="66"/>
</g>
<g id="paa-probe">
<polyline class="ax" points="3239,3131 3239,3441 3539,3441"/>
<path d="M3278,3290 C3280,3200 3340,3152 3532,3150" fill="none" stroke="#f5821f" stroke-width="7"/>
<path d="M3272,3412 C3420,3420 3525,3330 3534,3150" fill="none" stroke="#1f77b4" stroke-width="7"/>
<text class="plab" x="3210" y="3275" text-anchor="end" textLength="127" lengthAdjust="spacingAndGlyphs">Probe</text>
<text class="plab" x="3210" y="3340" text-anchor="end" textLength="206" lengthAdjust="spacingAndGlyphs">Accuracy</text>
<text class="plab" x="3383" y="3496" text-anchor="middle" textLength="145" lengthAdjust="spacingAndGlyphs">Layers</text>
</g>
</svg>
